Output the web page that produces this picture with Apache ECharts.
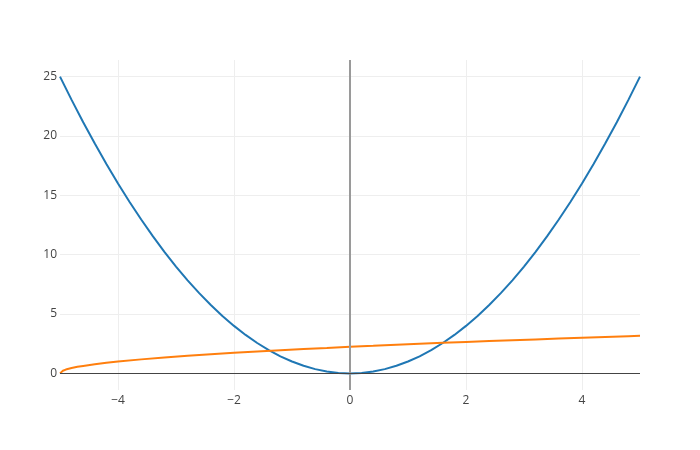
<!DOCTYPE html>
<html>
<head>
<meta charset="utf-8">
<script src="https://cdn.jsdelivr.net/npm/echarts@6/dist/echarts.min.js"></script>
<style>html,body{margin:0;padding:0;background:#fff;}#c{width:700px;height:450px;}</style>
</head>
<body>
<div id="c"></div>
<script>
var blueX = [-5,-4.8,-4.6,-4.4,-4.2,-4,-3.8,-3.6,-3.4,-3.2,-3,-2.8,-2.6,-2.4,-2.2,-2,-1.8,-1.6,-1.4,-1.2,-1,-0.8,-0.6,-0.4,-0.2,0,0.2,0.4,0.6,0.8,1,1.2,1.4,1.6,1.8,2,2.2,2.4,2.6,2.8,3,3.2,3.4,3.6,3.8,4,4.2,4.4,4.6,4.8,5];
var blueY = [25,23.04,21.16,19.36,17.64,16,14.44,12.96,11.56,10.24,9,7.84,6.76,5.76,4.84,4,3.24,2.56,1.96,1.44,1,0.64,0.36,0.16,0.04,0,0.04,0.16,0.36,0.64,1,1.44,1.96,2.56,3.24,4,4.84,5.76,6.76,7.84,9,10.24,11.56,12.96,14.44,16,17.64,19.36,21.16,23.04,25];
var orangeX = [-5,-4.95,-4.9,-4.8,-4.7,-4.6,-4.4,-4.2,-4,-3.6,-3.2,-2.8,-2.4,-2,-1.6,-1.2,-0.8,-0.4,0,0.4,0.8,1.2,1.6,2,2.4,2.8,3.2,3.6,4,4.4,4.8,5];
var orangeY = [0,0.22,0.32,0.45,0.55,0.63,0.77,0.89,1,1.18,1.34,1.48,1.61,1.73,1.84,1.95,2.05,2.14,2.24,2.32,2.41,2.49,2.57,2.65,2.72,2.79,2.86,2.93,3,3.07,3.13,3.16];
var xTicks = [-4,-2,0,2,4];
var yTicks = [0,5,10,15,20,25];

function pairs(xs, ys){ return xs.map(function(x,i){ return [x, ys[i]]; }); }
function fmt(v){ return String(v).replace('-', '\u2212'); }

var chart = echarts.init(document.getElementById('c'), null, {renderer:'canvas'});
chart.setOption({
  animation: false,
  backgroundColor: '#fff',
  grid: {left: 60, right: 60, top: 60, bottom: 60, containLabel: false},
  xAxis: {
    type: 'value', min: -5, max: 5,
    axisLine: {show: false},
    axisTick: {show: false, customValues: xTicks},
    axisLabel: {customValues: xTicks, formatter: fmt, color: '#444', fontFamily: 'Open Sans', fontSize: 12, margin: 5},
    splitLine: {show: true, lineStyle: {color: '#eeeeee', width: 1}}
  },
  yAxis: {
    type: 'value', min: -1.4, max: 26.4,
    axisLine: {show: false},
    axisTick: {show: false, customValues: yTicks},
    axisLabel: {customValues: yTicks, formatter: fmt, color: '#444', fontFamily: 'Open Sans', fontSize: 12, margin: 3},
    splitLine: {show: true, lineStyle: {color: '#eeeeee', width: 1}}
  },
  series: [
    {
      type: 'line', data: pairs(blueX, blueY), showSymbol: false, symbol: 'none',
      lineStyle: {color: '#1f77b4', width: 2}, itemStyle: {color: '#1f77b4'}, z: 3,
      markLine: {
        silent: true, symbol: ['none','none'], label: {show: false}, animation: false,
        data: [
          {xAxis: 0, lineStyle: {color: '#9a9a9a', width: 2, type: 'solid'}},
          {yAxis: 0, lineStyle: {color: '#444', width: 1, type: 'solid'}}
        ]
      }
    },
    {
      type: 'line', data: pairs(orangeX, orangeY), showSymbol: false, symbol: 'none',
      lineStyle: {color: '#ff7f0e', width: 2}, itemStyle: {color: '#ff7f0e'}, z: 4
    }
  ]
});
</script>
</body>
</html>
